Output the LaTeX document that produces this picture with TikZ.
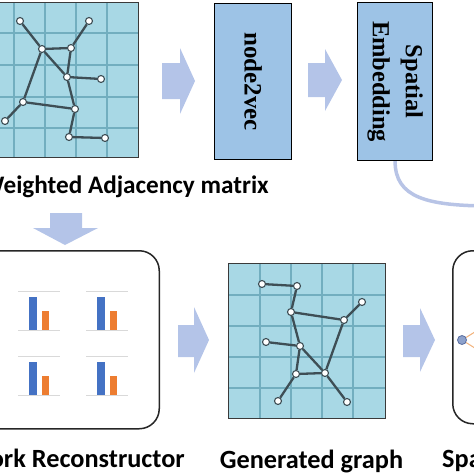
\documentclass[tikz,border=0pt]{standalone}
\usepackage{fontspec}
\setmainfont{Carlito}
\newfontfamily\timesfont{Liberation Serif}
\definecolor{panelfill}{HTML}{A8D8E5}
\definecolor{gridcol}{HTML}{72AEBF}
\definecolor{panelborder}{HTML}{3A3A3A}
\definecolor{edgecol}{HTML}{3E4E55}
\definecolor{procfill}{HTML}{9DC3E6}
\definecolor{arrcol}{HTML}{B4C4E8}
\definecolor{boxborder}{HTML}{262626}
\definecolor{barblue}{HTML}{4472C4}
\definecolor{barorange}{HTML}{ED7D31}
\definecolor{bargray}{HTML}{D9D9D9}
\definecolor{curvecol}{HTML}{B8C4E6}
\definecolor{snodefill}{HTML}{8EA2CC}
\definecolor{snodedraw}{HTML}{5A6EA0}
\definecolor{sedge}{HTML}{F2B27A}
\begin{document}
\begin{tikzpicture}[x=1pt,y=-1pt,
  panel/.style={draw=panelborder, line width=1.4pt, inner sep=0pt},
  gridl/.style={draw=gridcol, line width=1.1pt},
  gedge/.style={draw=edgecol, line width=2.3pt},
  gnode/.style={circle, draw=edgecol, fill=white, line width=1.1pt, inner sep=0pt, minimum size=7pt},
  procbox/.style={draw=black, line width=1.2pt, fill=procfill, inner sep=0pt},
  proctxt/.style={rotate=-90, inner sep=0pt, align=center, font=\timesfont\bfseries\fontsize{24.5}{33}\selectfont},
  blockarr/.style={fill=arrcol, draw=none},
  roundbox/.style={draw=boxborder, line width=1.5pt, rounded corners=20pt, fill=white, inner sep=0pt},
  captxt/.style={inner sep=0pt, font=\bfseries\fontsize{26.3}{31}\selectfont},
  barbl/.style={fill=barblue, draw=none},
  baror/.style={fill=barorange, draw=none},
  bargr/.style={draw=bargray, line width=0.9pt},
  connector/.style={draw=curvecol, line width=3.5pt}
]
\useasboundingbox (0,0) rectangle (474,474);
\clip (0,0) rectangle (474,474);

% ---------- top-left weighted adjacency panel ----------
\path[fill=panelfill] (-17,2) rectangle (138,157);
\begin{scope}
  \clip (-17,2) rectangle (138,157);
  \foreach \gx in {14,45,76,107} \draw[gridl] (\gx,0) -- (\gx,160);
  \foreach \gy in {33,65,97,128} \draw[gridl] (-20,\gy) -- (140,\gy);
\end{scope}
\node[panel, minimum width=155pt, minimum height=155pt, anchor=north west] (adjpanel) at (-17,2) {};
\node[gnode] (A) at (20,21) {};
\node[gnode] (B) at (89,21) {};
\node[gnode] (C) at (42,49) {};
\node[gnode] (D) at (71,48) {};
\node[gnode] (E) at (67,77) {};
\node[gnode] (F) at (101,79) {};
\node[gnode] (G) at (23,102) {};
\node[gnode] (H) at (75,109) {};
\node[gnode] (I) at (5,121) {};
\node[gnode] (J) at (69,137) {};
\node[gnode] (K) at (105,138) {};
\foreach \u/\v in {A/C, C/D, B/D, C/E, D/E, E/F, C/G, G/I, G/H, E/H, H/J, J/K}
  \draw[gedge] (\u) -- (\v);

% ---------- processing boxes ----------
\node[procbox, minimum width=77pt, minimum height=156pt, anchor=north west] (n2vbox) at (214,3) {};
\node[proctxt, font=\timesfont\bfseries\fontsize{25}{30}\selectfont] (n2vtxt) at (n2vbox.center) {node2vec};
\node[procbox, minimum width=75pt, minimum height=158pt, anchor=north west] (spbox) at (357,2) {};
\node[proctxt] (sptxt) at (spbox.center) {Spatial\\Embedding};

% ---------- block arrows ----------
\path[blockarr] (162,63) -- (180,63) -- (180,48) -- (195,81) -- (180,114) -- (180,99) -- (162,99) -- cycle;
\path[blockarr] (308,63) -- (325,63) -- (325,49) -- (342,80) -- (325,111) -- (325,97) -- (308,97) -- cycle;
\path[blockarr] (50,213) -- (82,213) -- (82,228) -- (98,228) -- (65,245) -- (33,228) -- (50,228) -- cycle;
\path[blockarr] (178,325) -- (194,325) -- (194,307) -- (209,340) -- (194,373) -- (194,357) -- (178,357) -- cycle;
\path[blockarr] (403,325) -- (420,325) -- (420,308) -- (435,340) -- (420,372) -- (420,357) -- (403,357) -- cycle;

% ---------- curve leaving the spatial embedding box ----------
\coordinate (curveend) at (484,206);
\draw[connector] (spbox.south) .. controls (395,198) and (428,205) .. (curveend);

% ---------- network reconstructor box ----------
\node[roundbox, minimum width=220pt, minimum height=178pt, anchor=north east] (reconbox) at (160,250) {};
\foreach \dx/\dy in {0/0, 68/0, 0/65, 68/65} {
  \draw[bargr] (18+\dx,291+\dy) -- (60+\dx,291+\dy);
  \path[barbl] (29+\dx,297+\dy) rectangle (37+\dx,330+\dy);
  \path[baror] (42+\dx,311+\dy) rectangle (49+\dx,330+\dy);
  \draw[bargr] (18+\dx,330+\dy) -- (60+\dx,330+\dy);
}

% ---------- generated graph panel ----------
\path[fill=panelfill] (228,263) rectangle (385,418);
\begin{scope}
  \clip (228,263) rectangle (385,418);
  \foreach \gx in {260,291,322,353} \draw[gridl] (\gx,260) -- (\gx,420);
  \foreach \gy in {295,326,357,388} \draw[gridl] (225,\gy) -- (390,\gy);
\end{scope}
\node[panel, minimum width=157pt, minimum height=155pt, anchor=north west] (genpanel) at (228,263) {};
\node[gnode] (a) at (262,284) {};
\node[gnode] (b) at (297,286) {};
\node[gnode] (c) at (291,312) {};
\node[gnode] (d) at (362,302) {};
\node[gnode] (e) at (344,320) {};
\node[gnode] (f) at (266,342) {};
\node[gnode] (g) at (300,346) {};
\node[gnode] (h) at (296,374) {};
\node[gnode] (i) at (325,373) {};
\node[gnode] (j) at (278,401) {};
\node[gnode] (k) at (347,402) {};
\foreach \u/\v in {a/b, b/c, c/e, e/d, c/g, f/g, g/i, g/h, h/i, e/i, h/j, i/k}
  \draw[gedge] (\u) -- (\v);

% ---------- spatial network box (right, cut) ----------
\node[roundbox, minimum width=120pt, minimum height=173pt, anchor=north west] (spatbox) at (452,250) {};
\coordinate (so1) at (478,330);
\coordinate (so2) at (478,350);
\node[circle, fill=snodefill, draw=snodedraw, line width=0.8pt, inner sep=0pt, minimum size=9pt] (snode) at (462,340) {};
\draw[draw=sedge, line width=1pt] (snode) -- (so1);
\draw[draw=sedge, line width=1pt] (snode) -- (so2);

% ---------- captions ----------
\node[captxt, font=\bfseries\fontsize{25.2}{31}\selectfont, anchor=base east] (capweighted) at (269,193) {Weighted Adjacency matrix};
\node[captxt, anchor=base east] (caprecon) at (185,467) {Network Reconstructor};
\node[captxt, anchor=base] (capgen) at (311.5,468) {Generated graph};
\node[captxt, anchor=base west] (capspat) at (442,467) {Spatial};
\end{tikzpicture}
\end{document}
